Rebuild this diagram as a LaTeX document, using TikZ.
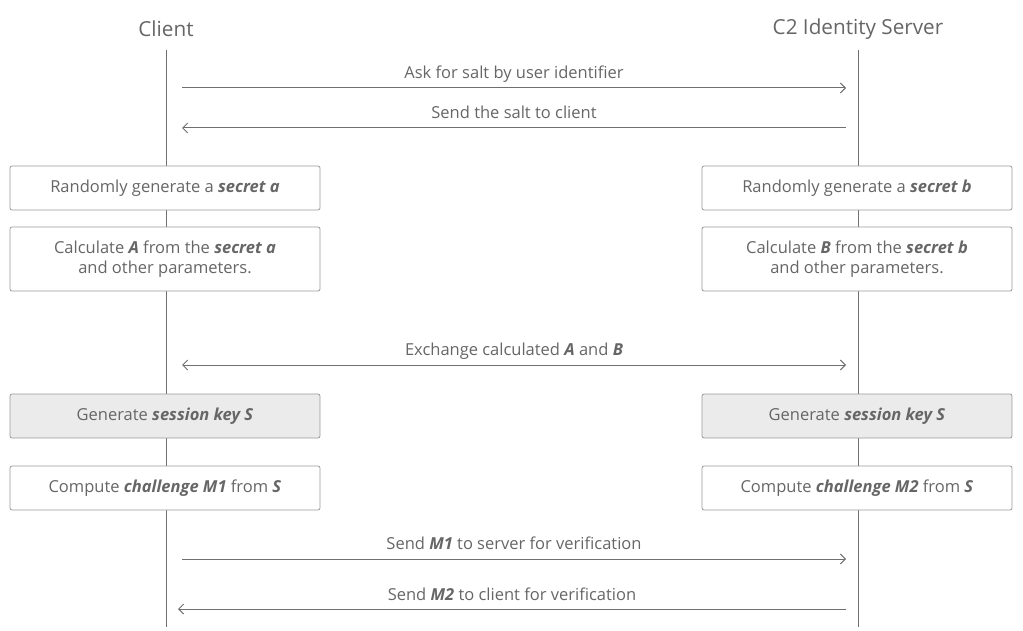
\documentclass[tikz,border=0pt]{standalone}
\usepackage{fontspec}
\setmainfont{Open Sans}
\usetikzlibrary{arrows.meta}
\definecolor{txt}{HTML}{666666}
\definecolor{ln}{HTML}{707070}
\definecolor{bx}{HTML}{9A9A9A}
\definecolor{gfill}{HTML}{EBEBEB}
\newcommand{\bi}[1]{\textbf{\textit{#1}}}
\begin{document}
\begin{tikzpicture}[x=1pt,y=-1pt,
  hdr/.style={text=txt,font=\fontsize{20.7}{24}\selectfont,inner sep=0},
  lbl/.style={text=txt,font=\fontsize{16.5}{20}\selectfont,inner sep=0,text depth=0pt},
  life/.style={draw=ln,line width=1pt},
  msg/.style={draw=ln,line width=1pt,-{Straight Barb[length=5pt,width=10pt]}},
  bmsg/.style={draw=ln,line width=1pt,{Straight Barb[length=5pt,width=10pt]}-{Straight Barb[length=5pt,width=10pt]}},
  stepbox/.style={draw=bx,fill=white,line width=0.8pt,rounded corners=2pt,minimum width=310pt,text=txt,font=\fontsize{16.5}{20}\selectfont,align=center,inner sep=0},
  gbox/.style={stepbox,fill=gfill}]
\useasboundingbox (0,0) rectangle (1023,631);
\node[hdr] (client) at (166,29) {Client};
\node[hdr] (server) at (858,29) {C2 Identity Server};
\coordinate (ctop) at (166,50);
\coordinate (cbot) at (166,627);
\coordinate (stop) at (858,50);
\coordinate (sbot) at (858,627);
\draw[life] (ctop) -- (cbot);
\draw[life] (stop) -- (sbot);
% messages
\coordinate (a1) at (182,88); \coordinate (b1) at (846,88);
\draw[msg] (a1) -- node[lbl,above=9pt] {Ask for salt by user identifier} (b1);
\coordinate (a2) at (182,128); \coordinate (b2) at (846,128);
\draw[msg] (b2) -- node[lbl,above=9pt] {Send the salt to client} (a2);
% boxes
\node[stepbox,minimum height=44pt] (c1) at (165,188) {Randomly generate a \bi{secret a}};
\node[stepbox,minimum height=44pt] (s1) at (857,188) {Randomly generate a \bi{secret b}};
\node[stepbox,minimum height=64pt] (c2) at (165,259) {Calculate \bi{A} from the \bi{secret a}\\and other parameters.};
\node[stepbox,minimum height=64pt] (s2) at (857,259) {Calculate \bi{B} from the \bi{secret b}\\and other parameters.};
\coordinate (a3) at (182,365); \coordinate (b3) at (846,365);
\draw[bmsg] (a3) -- node[lbl,above=9pt] {Exchange calculated \bi{A} and \bi{B}} (b3);
\node[gbox,minimum height=44pt] (c3) at (165,416) {Generate \bi{session key S}};
\node[gbox,minimum height=44pt] (s3) at (857,416) {Generate \bi{session key S}};
\node[stepbox,minimum height=44pt] (c4) at (165,488) {Compute \bi{challenge M1} from \bi{S}};
\node[stepbox,minimum height=44pt] (s4) at (857,488) {Compute \bi{challenge M2} from \bi{S}};
\coordinate (a5) at (182,559); \coordinate (b5) at (846,559);
\draw[msg] (a5) -- node[lbl,above=9pt] {Send \bi{M1} to server for verification} (b5);
\coordinate (a6) at (178,609); \coordinate (b6) at (846,609);
\draw[msg] (b6) -- node[lbl,above=8pt] {Send \bi{M2} to client for verification} (a6);
\end{tikzpicture}
\end{document}
